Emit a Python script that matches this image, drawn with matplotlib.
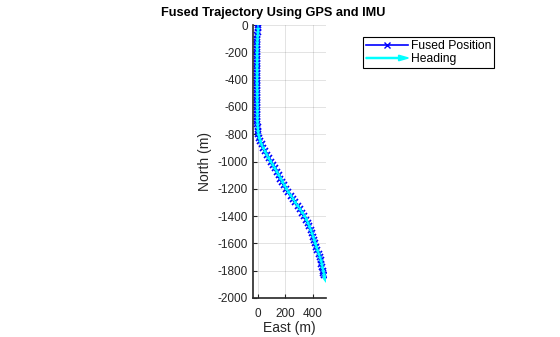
import matplotlib.pyplot as plt
import numpy as np
from matplotlib.lines import Line2D
from matplotlib.patches import FancyArrow
from matplotlib.legend_handler import HandlerBase

plt.rcParams['font.family'] = ['Liberation Sans', 'DejaVu Sans']
plt.rcParams['axes.unicode_minus'] = False

# Fused positions (m)
north = [0, -25, -50, -75, -100, -125, -150, -175, -200, -225, -250, -275,
         -300, -325, -350, -375, -400, -425, -450, -475, -500, -525, -550,
         -575, -600, -625, -650, -675, -700, -725, -750, -775, -800, -825,
         -850, -875, -900, -925, -950, -975, -1000, -1025, -1050, -1075,
         -1100, -1125, -1150, -1175, -1200, -1225, -1250, -1275, -1300,
         -1325, -1350, -1375, -1400, -1425, -1450, -1475, -1500, -1525,
         -1550, -1575, -1600, -1625, -1650, -1675, -1700, -1725, -1750,
         -1775, -1800, -1815, -1830]
east = [0, -2, -3, -4, -5, -6, -6, -7, -7, -7, -7, -8,
        -7, -7, -7, -8, -7, -7, -6, -6, -6, -6, -5,
        -5, -5, -5, -5, -5, -5, -4, -3, -1, 2, 7,
        15, 26, 38, 50, 63, 77, 92, 107, 122, 136,
        150, 164, 178, 192, 206, 222, 238, 254, 270,
        288, 305, 322, 338, 350, 362, 373, 383, 392,
        400, 408, 416, 425, 433, 442, 450, 456, 462,
        468, 473, 476, 478]
# heading of motion (deg, counter-clockwise from east)
heading = [-88, -88, -89, -89, -89, -89, -88, -88, -88, -88, -88, -88,
           -88, -88, -88, -88, -88, -88, -88, -88, -88, -88, -88,
           -88, -88, -88, -88, -87, -86, -84, -82, -78, -73, -68,
           -65, -63, -62, -61, -60, -58, -57, -57, -58, -58,
           -59, -59, -59, -58, -57, -56, -55, -54, -53,
           -53, -54, -56, -60, -62, -65, -67, -69, -70,
           -70, -70, -70, -70, -70, -71, -72, -73, -75,
           -75, -76, -76, -75]
arrow_len = 62

ang = np.radians(heading)
u = arrow_len * np.cos(ang)
v = arrow_len * np.sin(ang)

fig = plt.figure(figsize=(5.6, 3.37), dpi=100)
ax = fig.add_axes([253 / 560, 1 - 298 / 337, 73 / 560, 273 / 337])

ax.plot(east, north, color='blue', marker='x', markersize=4.5, linewidth=2,
        markeredgewidth=1.2, zorder=2)
ax.quiver(east, north, u, v, color='cyan', angles='xy', scale_units='xy',
          scale=1, width=0.018, headwidth=3.5, headlength=4.5,
          headaxislength=4, zorder=3)

ax.set_xlim(-36, 495)
ax.set_ylim(-2000, 0)
ax.set_xticks([0, 200, 400])
ax.set_yticks(np.arange(-2000, 1, 200))
ax.grid(True, color='#262626', alpha=0.15, linewidth=0.6)
ax.set_axisbelow(True)
for s in ['top', 'right']:
    ax.spines[s].set_visible(False)
for s in ['left', 'bottom']:
    ax.spines[s].set_color('#262626')
    ax.spines[s].set_linewidth(1.2)
ax.tick_params(direction='in', length=3, labelsize=8.5, colors='#262626',
               labelcolor='#262626')
ax.tick_params(axis='x', pad=7)
ax.set_xlabel('East (m)', fontsize=10, color='#262626', labelpad=1)
ax.set_ylabel('North (m)', fontsize=10, color='#262626', labelpad=4)

fig.text(273 / 560, 1 - 13 / 337, 'Fused Trajectory Using GPS and IMU',
         ha='center', va='center', fontsize=9.2, fontweight='bold')


class ArrowHandler(HandlerBase):
    def create_artists(self, legend, orig, xd, yd, w, h, fontsize, trans):
        a = FancyArrow(-xd, h / 2 - yd, w, 0, width=0.8, head_width=4,
                       head_length=7, length_includes_head=True,
                       color='cyan', transform=trans)
        return [a]


class QuiverKey:
    pass


handles = [Line2D([], [], color='blue', marker='x', markersize=4, linewidth=1.2),
           QuiverKey()]
leg = fig.legend(handles, ['Fused Position', 'Heading'],
                 handler_map={QuiverKey: ArrowHandler()},
                 loc='upper left', bbox_to_anchor=(363 / 560, 1 - 37 / 337),
                 fontsize=8.7, fancybox=False, framealpha=1, edgecolor='black',
                 borderpad=0.25, labelspacing=0.1, handlelength=3.5,
                 handletextpad=0.2, borderaxespad=0)
leg.get_frame().set_linewidth(0.8)

plt.savefig('out.png', dpi=100)
plt.close()
